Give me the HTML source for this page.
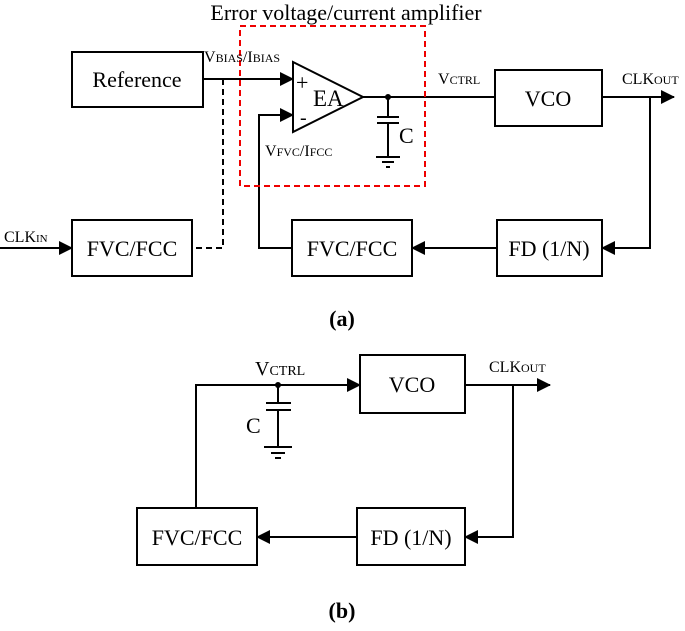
<!DOCTYPE html>
<html><head><meta charset="utf-8"><style>body{margin:0;background:#fff}svg{display:block}text{font-family:"Liberation Serif",serif;fill:#000}</style></head><body>
<svg width="685" height="631" viewBox="0 0 685 631" xmlns="http://www.w3.org/2000/svg">
<defs><marker id="b" viewBox="0 0 14 14" markerWidth="14" markerHeight="14" refX="13" refY="7" orient="auto" markerUnits="userSpaceOnUse"><path d="M0,0 L14,7 L0,14 z" fill="#000"/></marker></defs>
<g stroke="#000" stroke-width="2" fill="none">
<rect x="72" y="52" width="131" height="55"/>
<rect x="72" y="220" width="120" height="56"/>
<rect x="292" y="220" width="120" height="56"/>
<rect x="497" y="220" width="105" height="56"/>
<rect x="495" y="70" width="107" height="56"/>
<path d="M293,62 L363,97 L293,132 z"/>
<line x1="203" y1="79" x2="293" y2="79" marker-end="url(#b)"/>
<path d="M223,79 V248 H192" stroke-dasharray="6,4"/>
<path d="M292,248 H259 V115 H293" marker-end="url(#b)"/>
<line x1="363" y1="97" x2="495" y2="97"/>
<line x1="388" y1="97" x2="388" y2="117"/>
<line x1="377" y1="117" x2="399" y2="117"/>
<line x1="377" y1="123" x2="399" y2="123"/>
<line x1="388" y1="123" x2="388" y2="157"/>
<line x1="376" y1="157" x2="400" y2="157"/>
<line x1="382" y1="162" x2="394" y2="162"/>
<line x1="386" y1="167" x2="390" y2="167"/>
<line x1="602" y1="97" x2="674" y2="97" marker-end="url(#b)"/>
<path d="M650,97 V248 H602" marker-end="url(#b)"/>
<line x1="497" y1="248" x2="412" y2="248" marker-end="url(#b)"/>
<line x1="0" y1="248" x2="72" y2="248" marker-end="url(#b)"/>
<rect x="240" y="26" width="185" height="160" stroke="#e00" stroke-dasharray="6,4"/>
<rect x="360" y="355" width="105" height="58"/>
<rect x="357" y="508" width="108" height="57"/>
<rect x="137" y="508" width="120" height="57"/>
<path d="M196,508 V385 H360" marker-end="url(#b)"/>
<line x1="278" y1="385" x2="278" y2="403"/>
<line x1="266" y1="403" x2="291" y2="403"/>
<line x1="266" y1="410" x2="291" y2="410"/>
<line x1="278" y1="410" x2="278" y2="447"/>
<line x1="264" y1="447" x2="292" y2="447"/>
<line x1="271" y1="453" x2="285" y2="453"/>
<line x1="275" y1="458" x2="281" y2="458"/>
<line x1="465" y1="385" x2="550" y2="385" marker-end="url(#b)"/>
<path d="M513,385 V537 H465" marker-end="url(#b)"/>
<line x1="357" y1="537" x2="257" y2="537" marker-end="url(#b)"/>
</g>
<circle cx="388" cy="97" r="3" fill="#000"/>
<circle cx="278" cy="385" r="3" fill="#000"/>
<text x="346" y="20" font-size="22" text-anchor="middle">Error voltage/current amplifier</text>
<text x="137" y="87" font-size="22" text-anchor="middle">Reference</text>
<text x="132" y="256" font-size="22" text-anchor="middle">FVC/FCC</text>
<text x="352" y="256" font-size="22" text-anchor="middle">FVC/FCC</text>
<text x="549" y="256" font-size="22" text-anchor="middle">FD (1/N)</text>
<text x="548" y="106" font-size="22" text-anchor="middle">VCO</text>
<text x="204" y="62" font-size="16">V<tspan font-size="12">BIAS</tspan>/I<tspan font-size="12">BIAS</tspan></text>
<text x="296" y="90" font-size="22">+</text>
<text x="300" y="124" font-size="20">-</text>
<text x="313" y="106" font-size="23">EA</text>
<text x="399" y="143" font-size="22">C</text>
<text x="265" y="156" font-size="16">V<tspan font-size="12">FVC</tspan>/I<tspan font-size="12">FCC</tspan></text>
<text x="438" y="84" font-size="16">V<tspan font-size="12">CTRL</tspan></text>
<text x="622" y="84" font-size="16">CLK<tspan font-size="12">OUT</tspan></text>
<text x="4" y="242" font-size="16">CLK<tspan font-size="11">IN</tspan></text>
<text x="342" y="326" font-size="22" font-weight="bold" text-anchor="middle">(a)</text>
<text x="412" y="392" font-size="22" text-anchor="middle">VCO</text>
<text x="411" y="545" font-size="22" text-anchor="middle">FD (1/N)</text>
<text x="197" y="545" font-size="22" text-anchor="middle">FVC/FCC</text>
<text x="255" y="375" font-size="20">V<tspan font-size="14">CTRL</tspan></text>
<text x="246" y="433" font-size="22">C</text>
<text x="489" y="372" font-size="16">CLK<tspan font-size="12">OUT</tspan></text>
<text x="342" y="618" font-size="22" font-weight="bold" text-anchor="middle">(b)</text>
</svg>
</body></html>
